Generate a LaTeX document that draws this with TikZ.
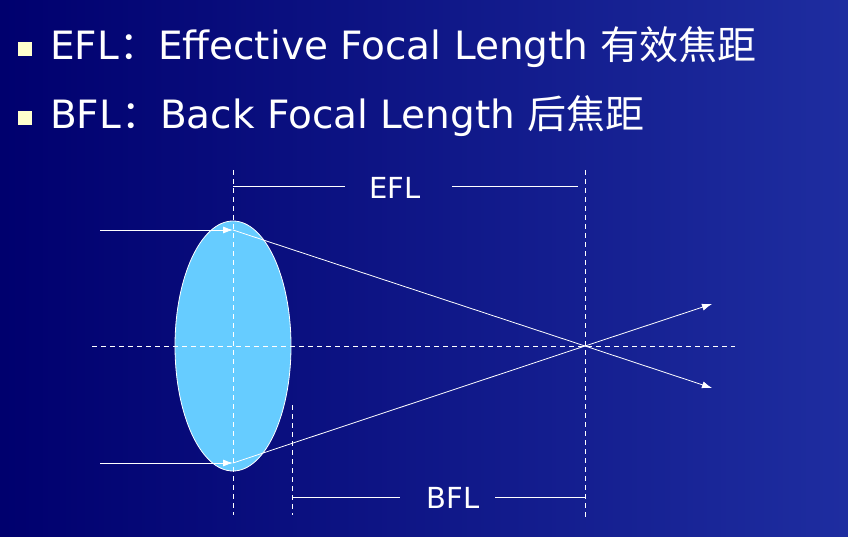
\documentclass[tikz,border=0pt]{standalone}
\usepackage{fontspec}
\setmainfont{DejaVu Sans}
\newfontfamily\cjk{Noto Sans CJK SC}
\usetikzlibrary{arrows.meta,shapes.geometric}
\begin{document}
\begin{tikzpicture}[x=1pt,y=-1pt,
  guide/.style={white,dash pattern=on 5pt off 4pt,line width=0.7pt},
  ray/.style={white,line width=0.8pt},
  arr/.style={ray,-{Latex[length=10pt,width=7pt]}},
  dim/.style={white,line width=0.8pt},
  lbl/.style={white,font=\fontsize{29}{34}\selectfont},
  title/.style={white,anchor=west,inner sep=0pt,font=\fontsize{39}{44}\selectfont},
  bul/.style={fill={rgb,255:red,255;green,255;blue,204},minimum size=14pt,inner sep=0pt}]
\shade[left color={rgb,255:red,0;green,0;blue,110},right color={rgb,255:red,30;green,45;blue,160}] (0,0) rectangle (848,537);
\useasboundingbox (0,0) rectangle (848,537);
\node[bul] (b1) at (25,49) {};
\node[bul] (b2) at (25,118) {};
\node[title] (t1) at (50,47) {EFL{\cjk ：}Effective Focal Length {\cjk 有效焦距}};
\node[title] (t2) at (50,116) {BFL{\cjk ：}Back Focal Length {\cjk 后焦距}};
\node[ellipse,draw=white,fill={rgb,255:red,102;green,204;blue,255},minimum width=116pt,minimum height=250pt,inner sep=0pt,line width=0.8pt] (lens) at (233,346) {};
\coordinate (F) at (585,346);
\draw[guide] (92,346) -- (735,346);
\draw[guide] (233,170) -- (233,515);
\draw[guide] (585,170) -- (585,520);
\draw[guide] (292,405) -- (292,515);
\coordinate (i1) at (100,230); \coordinate (h1) at (233,230);
\coordinate (i2) at (100,463); \coordinate (h2) at (233,463);
\coordinate (o1) at (712,388); \coordinate (o2) at (712,304);
\draw[arr] (i1) -- (h1);
\draw[arr] (i2) -- (h2);
\draw[arr] (h1) -- (F) -- (o1);
\draw[arr] (h2) -- (F) -- (o2);
\node[lbl] (efl) at (395,188) {EFL};
\draw[dim] (233,186) -- (345,186);
\draw[dim] (452,186) -- (578,186);
\node[lbl] (bfl) at (453,498) {BFL};
\draw[dim] (292,497) -- (400,497);
\draw[dim] (495,497) -- (585,497);
\end{tikzpicture}
\end{document}
